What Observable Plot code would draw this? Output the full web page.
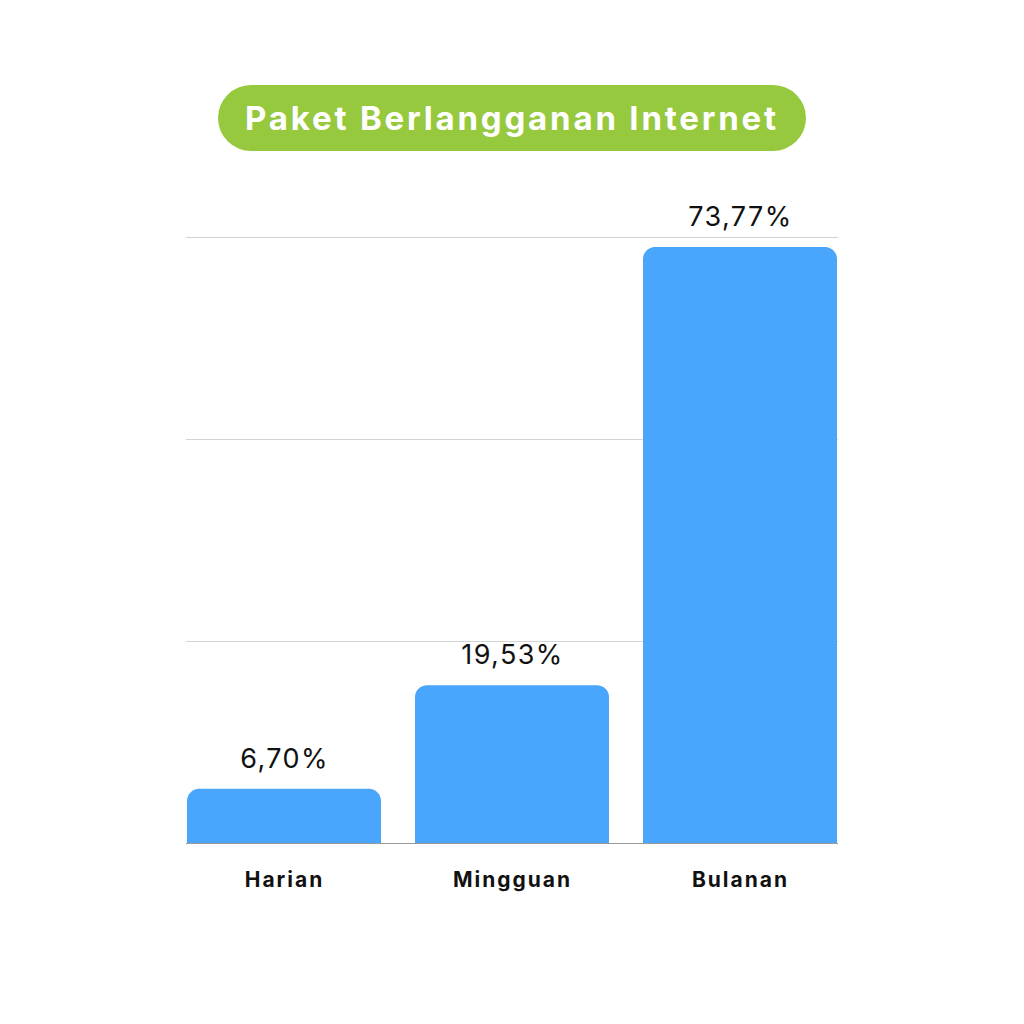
<!DOCTYPE html>
<html>
<head>
<meta charset="utf-8">
<script src="https://cdn.jsdelivr.net/npm/d3@7"></script>
<script src="https://cdn.jsdelivr.net/npm/@observablehq/plot@0.6"></script>
<style>
  html, body { margin: 0; padding: 0; background: #ffffff; }
  #wrap { position: relative; width: 1024px; height: 1024px; font-family: "Inter", "Open Sans", sans-serif; }
  #title {
    position: absolute; left: 218px; top: 85px; width: 588px; height: 66px;
    border-radius: 33px; background: #97c93f; color: #ffffff;
    font-weight: 700; font-size: 33px; line-height: 66px; text-align: center;
    letter-spacing: 2.8px;
  }
  #chart { position: absolute; left: 0; top: 180px; }
  #chart g[aria-label="x-axis tick label"] text { letter-spacing: 2px; }
  #chart g[aria-label="text"] text { letter-spacing: 1.4px; }
</style>
</head>
<body>
<div id="wrap">
  <div id="title">Paket Berlangganan Internet</div>
  <div id="chart"></div>
</div>
<script>
const categories = ["Harian", "Mingguan", "Bulanan"];
const values = [6.70, 19.53, 73.77];
const labels = ["6,70%", "19,53%", "73,77%"];
const gridTicks = [25, 50, 75];

const data = categories.map((c, i) => ({category: c, value: values[i], label: labels[i]}));

const chart = Plot.plot({
  width: 1024,
  height: 740,
  marginTop: 57,
  marginBottom: 77,
  marginLeft: 186,
  marginRight: 186,
  style: {fontFamily: "Inter, 'Open Sans', sans-serif", background: "transparent"},
  x: {domain: categories, paddingInner: 0.147, paddingOuter: 0, label: null},
  y: {domain: [0, 75], axis: null},
  marks: [
    Plot.ruleY(gridTicks, {stroke: "#d4d4d4", strokeWidth: 1}),
    Plot.barY(data, {x: "category", y: "value", fill: "#4aa5fd", rx: 12}),
    Plot.barY(data, {x: "category", y1: 0, y2: d => d.value / 2, fill: "#4aa5fd"}),
    Plot.ruleY([0], {stroke: "#9a9a9a", strokeWidth: 1}),
    Plot.text(data, {x: "category", y: "value", text: "label", dy: -30, fontSize: 27, fill: "#111111"}),
    Plot.axisX({tickSize: 0, tickPadding: 29, fontSize: 21, fontWeight: "bold", fill: "#111111", label: null})
  ]
});
document.getElementById("chart").appendChild(chart);
</script>
</body>
</html>
